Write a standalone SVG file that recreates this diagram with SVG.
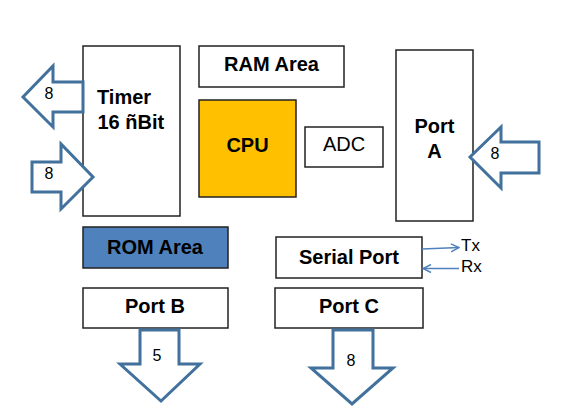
<svg xmlns="http://www.w3.org/2000/svg" width="577" height="415" viewBox="0 0 577 415">
<defs>
<style>
.box{fill:#fff;stroke:#222;stroke-width:1.5}
.b{font-family:"Liberation Sans",Arial,sans-serif;font-weight:bold;font-size:20px;fill:#000;text-anchor:middle}
.bs{font-family:"Liberation Sans",Arial,sans-serif;font-weight:bold;font-size:20px;fill:#000;text-anchor:start}
.r{font-family:"Liberation Sans",Arial,sans-serif;font-size:20px;fill:#000;text-anchor:middle}
.blk{fill:#fff;stroke:#41719C;stroke-width:3;stroke-linejoin:miter}
.lbl{font-family:"Liberation Sans",Arial,sans-serif;font-size:16px;fill:#000;text-anchor:middle}
.sig{font-family:"Liberation Sans",Arial,sans-serif;font-size:17px;fill:#000}
.ln{fill:none;stroke:#4F81BD;stroke-width:1.5}
</style>
<marker id="ah" viewBox="0 0 10 10" refX="9" refY="5" markerWidth="10" markerHeight="10" markerUnits="userSpaceOnUse" orient="auto">
<path d="M1,1 L9,5 L1,9" fill="none" stroke="#4F81BD" stroke-width="1.5"/>
</marker>
</defs>
<rect width="577" height="415" fill="#fff"/>
<g id="timer">
<rect class="box" x="83" y="46" width="97" height="170"/>
<text class="bs" x="97" y="104">Timer</text>
<text class="bs" x="97.5" y="129">16 ñBit</text>
</g>
<g id="ram">
<rect class="box" x="199" y="46" width="145" height="41"/>
<text class="b" x="271.5" y="71">RAM Area</text>
</g>
<g id="cpu">
<rect x="199" y="100" width="97" height="97" fill="#FFC000" stroke="#222" stroke-width="1.5"/>
<text class="b" x="247.5" y="152">CPU</text>
</g>
<g id="adc">
<rect class="box" x="305" y="127" width="78" height="40"/>
<text class="r" x="344" y="151">ADC</text>
</g>
<g id="portA">
<rect class="box" x="396" y="50" width="77" height="171"/>
<text class="b" x="434.5" y="133">Port</text>
<text class="b" x="434.5" y="158">A</text>
</g>
<g id="rom">
<rect x="83" y="227" width="145" height="41" fill="#4F81BD" stroke="#222" stroke-width="1.5"/>
<text class="b" x="155" y="253.5">ROM Area</text>
</g>
<g id="serial">
<rect class="box" x="276" y="237" width="146" height="41"/>
<text class="b" x="349" y="263.5">Serial Port</text>
</g>
<g id="portB">
<rect class="box" x="83" y="288" width="145" height="40"/>
<text class="b" x="155" y="313">Port B</text>
</g>
<g id="portC">
<rect class="box" x="275" y="288" width="148" height="40"/>
<text class="b" x="349" y="313">Port C</text>
</g>
<g id="connectors">
<polygon class="blk" points="83,82 53,82 53,66 23,97 53,127 53,112 83,112"/>
<text class="lbl" x="49" y="99">8</text>
<polygon class="blk" points="32,162 61,162 61,144 93,177 61,209 61,192 32,192"/>
<text class="lbl" x="49" y="179">8</text>
<polygon class="blk" points="470,157 501,127 501,142 539,142 539,173 501,173 501,188"/>
<text class="lbl" x="495" y="159">8</text>
<polygon class="blk" points="140,330 179,330 179,364 200,364 161,401 120,364 140,364"/>
<text class="lbl" x="157" y="361">5</text>
<polygon class="blk" points="333,330 373,330 373,368 393,368 352,404 311,368 333,368"/>
<text class="lbl" x="351" y="366">8</text>
<line class="ln" x1="422" y1="249" x2="459" y2="247.5" marker-end="url(#ah)"/>
<line class="ln" x1="459" y1="268.5" x2="423" y2="268.5" marker-end="url(#ah)"/>
<text class="sig" x="461" y="250.5">Tx</text>
<text class="sig" x="461" y="271.5">Rx</text>
</g>
</svg>
